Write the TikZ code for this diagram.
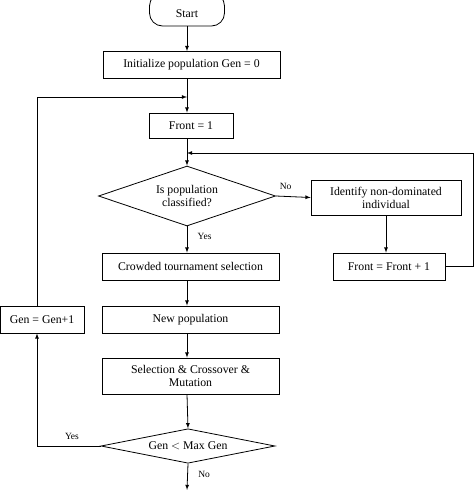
\documentclass[tikz,border=0pt]{standalone}
\usepackage{fontspec}
\setmainfont{Liberation Serif}
\usetikzlibrary{shapes.geometric,positioning}

\begin{document}
\begin{tikzpicture}[x=1pt, y=-1pt, >=latex, line width=0.8pt,
    every node/.style={font=\fontsize{11.8}{13}\selectfont},
    procbox/.style={draw, rectangle, minimum width=177pt, minimum height=27pt, inner sep=2pt, align=center},
    decide/.style={draw, diamond, aspect=3, inner sep=0pt, align=center},
    lbl/.style={font=\fontsize{9.5}{11}\selectfont}]
    \useasboundingbox (0,0) rectangle (474,490);
    \clip (0,0) rectangle (474,490);

    % --- Main column ---
    \node[draw, rectangle, rounded corners=13pt, minimum width=75pt, minimum height=33pt, text height=16pt] (start) at (187,9.5) {Start};
    \node[procbox] (init) at (191.5,65) {Initialize population Gen = 0};
    \node[procbox, minimum width=84pt, minimum height=25pt] (front) at (191,125.5) {Front = 1};
    \node[decide, minimum width=177pt, minimum height=60pt] (classd) at (187,196) {Is population\\classified?};
    \node[procbox] (crowd) at (190.5,266.5) {Crowded tournament selection};
    \node[procbox] (newpop) at (190.5,319.5) {New population};
    \node[procbox, minimum height=36pt] (selmut) at (190.5,376) {Selection \& Crossover \&\\Mutation};
    \node[decide, minimum width=174pt, minimum height=34pt] (maxgen) at (188,446) {Gen $<$ Max Gen};

    % --- Side boxes ---
    \node[procbox, minimum width=150pt, minimum height=35pt] (ident) at (386,197.5) {Identify non-dominated\\individual};
    \node[procbox, minimum width=112pt] (incfront) at (389,266.5) {Front = Front + 1};
    \node[procbox, minimum width=84pt] (incgen) at (42,319.5) {Gen = Gen+1};

    % loop corners
    \coordinate (genloop) at (37,97);
    \coordinate (frontloop) at (473,153);
    \coordinate (finish) at (187,490);

    % --- Connectors ---
    \draw[->] (start.south) -- (start.south |- init.north);
    \draw[->] (start.south |- init.south) -- (start.south |- front.north);
    \draw[->] (start.south |- front.south) -- (classd.north);
    \draw[->] (classd.east) -- (ident.west) node[lbl, pos=0.28, above=3pt] {No};
    \draw[->] (ident.south -| 386,0) -- (incfront.north -| 386,0);
    \draw[->] (incfront.east) -- (incfront.east -| frontloop) -- (frontloop) -- (frontloop -| start.south);
    \draw[->] (classd.south) -- (classd.south |- crowd.north) node[lbl, pos=0.4, right=7pt] {Yes};
    \draw[->] (classd.south |- crowd.south) -- (classd.south |- newpop.north);
    \draw[->] (classd.south |- newpop.south) -- (classd.south |- selmut.north);
    \draw[->] (classd.south |- selmut.south) -- (maxgen.north);
    \draw[->] (maxgen.west) -- (maxgen.west -| genloop) node[lbl, pos=0.45, above=3pt] {Yes} -- (incgen.south -| genloop);
    \draw[->] (incgen.north -| genloop) -- (genloop) -- (genloop -| start.south);
    \draw[->] (maxgen.south) -- (finish) node[lbl, pos=0.4, right=7pt] {No};
\end{tikzpicture}
\end{document}
